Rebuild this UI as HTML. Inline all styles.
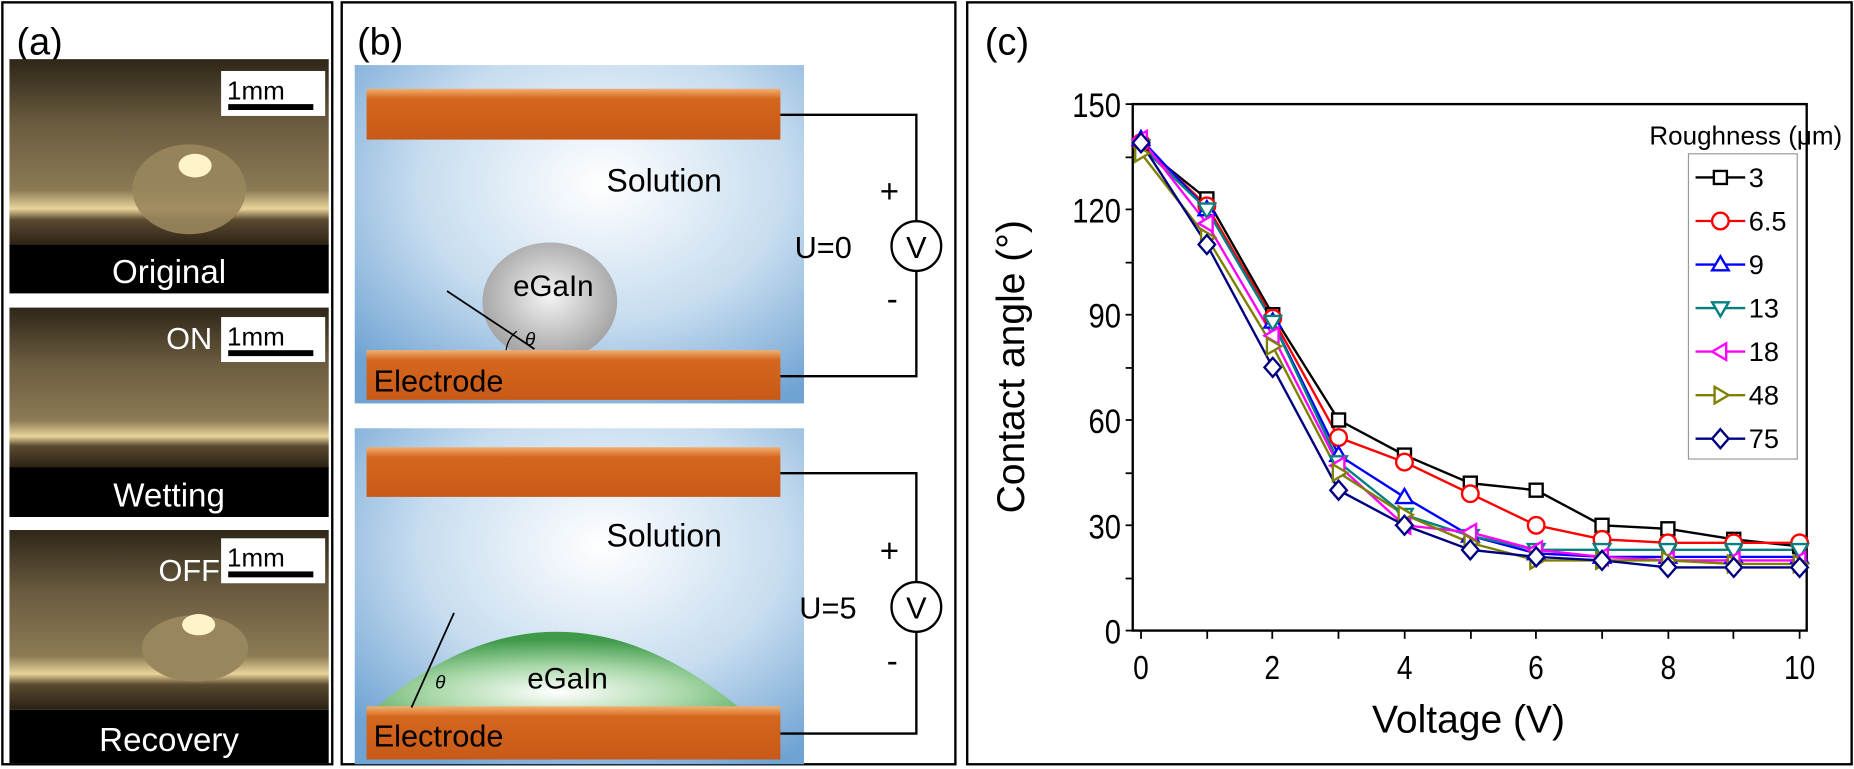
<!DOCTYPE html>
<html><head><meta charset="utf-8"><style>html,body{margin:0;padding:0;background:#fff}svg{display:block}</style></head>
<body>
<svg width="1854" height="769" viewBox="0 0 1568 650" preserveAspectRatio="none" xmlns="http://www.w3.org/2000/svg" font-family="Liberation Sans, Arial, sans-serif">
<defs>
<linearGradient id="ph" x1="0" y1="0" x2="0" y2="1">
<stop offset="0" stop-color="#2e2618"/><stop offset="0.35" stop-color="#6b5c40"/><stop offset="0.7" stop-color="#8c7a55"/><stop offset="0.8" stop-color="#e8d49a"/><stop offset="0.86" stop-color="#5a4a30"/><stop offset="1" stop-color="#2a2014"/>
</linearGradient>
<radialGradient id="sol" cx="0.55" cy="0.35" r="0.75"><stop offset="0" stop-color="#ffffff"/><stop offset="0.55" stop-color="#c6dcef"/><stop offset="1" stop-color="#6fa3d3"/></radialGradient>
<radialGradient id="gray" cx="0.5" cy="0.45" r="0.6"><stop offset="0" stop-color="#f4f4f4"/><stop offset="1" stop-color="#9a9a9a"/></radialGradient>
<radialGradient id="grn" cx="0.5" cy="0.8" r="0.7"><stop offset="0" stop-color="#ffffff"/><stop offset="0.5" stop-color="#a9d8a9"/><stop offset="1" stop-color="#3f9a4a"/></radialGradient>
<linearGradient id="el" x1="0" y1="0" x2="0" y2="1"><stop offset="0" stop-color="#f2b070"/><stop offset="0.2" stop-color="#d4661e"/><stop offset="1" stop-color="#c85a18"/></linearGradient>
</defs>
<!-- panel a -->
<rect x="2" y="2" width="279" height="644" fill="#fff" stroke="#000" stroke-width="2"/>
<text x="14" y="46" font-size="32">(a)</text>
<rect x="8" y="50" width="270" height="158" fill="url(#ph)"/>
<ellipse cx="160" cy="160" rx="48" ry="38" fill="#9a865c" opacity="0.9"/><ellipse cx="165" cy="140" rx="14" ry="10" fill="#fff4c8"/>
<rect x="8" y="207" width="270" height="41" fill="#000"/>
<text x="143" y="239" font-size="28" fill="#fff" text-anchor="middle">Original</text>
<rect x="8" y="260" width="270" height="136" fill="url(#ph)"/>
<rect x="8" y="395" width="270" height="42" fill="#000"/>
<text x="143" y="428" font-size="28" fill="#fff" text-anchor="middle">Wetting</text>
<text x="160" y="295" font-size="26" fill="#fff" text-anchor="middle">ON</text>
<rect x="8" y="448" width="270" height="152" fill="url(#ph)"/>
<ellipse cx="165" cy="548" rx="45" ry="28" fill="#9a865c"/><ellipse cx="168" cy="528" rx="14" ry="9" fill="#fff4c8"/>
<rect x="8" y="600" width="270" height="45" fill="#000"/>
<text x="143" y="635" font-size="28" fill="#fff" text-anchor="middle">Recovery</text>
<text x="160" y="491" font-size="26" fill="#fff" text-anchor="middle">OFF</text>
<g font-size="22">
<rect x="187" y="60" width="88" height="38" fill="#fff"/><text x="192" y="84">1mm</text><rect x="193" y="88" width="72" height="5" fill="#000"/>
<rect x="187" y="268" width="88" height="38" fill="#fff"/><text x="192" y="292">1mm</text><rect x="193" y="296" width="72" height="5" fill="#000"/>
<rect x="187" y="455" width="88" height="38" fill="#fff"/><text x="192" y="479">1mm</text><rect x="193" y="483" width="72" height="5" fill="#000"/>
</g>
<!-- panel b -->
<rect x="289" y="2" width="519" height="644" fill="#fff" stroke="#000" stroke-width="2"/>
<text x="302" y="46" font-size="32">(b)</text>
<rect x="300" y="55" width="380" height="286" fill="url(#sol)"/>
<rect x="310" y="75" width="350" height="43" fill="url(#el)"/>
<ellipse cx="465" cy="255" rx="57" ry="50" fill="url(#gray)"/>
<rect x="310" y="296" width="350" height="42" fill="url(#el)"/>
<text x="513" y="162" font-size="27">Solution</text>
<text x="468" y="250" font-size="25" text-anchor="middle">eGaIn</text>
<text x="444" y="292" font-size="16" font-style="italic">θ</text>
<line x1="378" y1="246" x2="452" y2="295" stroke="#000" stroke-width="1.5"/>
<path d="M428 296 A25 25 0 0 1 437 280" fill="none" stroke="#000"/>
<text x="316" y="331" font-size="26">Electrode</text>
<polyline points="660,97 775,97 775,318 660,318" fill="none" stroke="#000" stroke-width="2"/>
<circle cx="775" cy="208" r="21" fill="#fff" stroke="#000" stroke-width="2"/>
<text x="775" y="218" font-size="26" text-anchor="middle">V</text>
<text x="744" y="171" font-size="28">+</text>
<text x="672" y="218" font-size="26">U=0</text>
<text x="750" y="262" font-size="28">-</text>
<rect x="300" y="362" width="380" height="284" fill="url(#sol)"/>
<rect x="310" y="378" width="350" height="42" fill="url(#el)"/>
<path d="M318 598 Q470 470 625 598 Z" fill="url(#grn)"/>
<rect x="310" y="597" width="350" height="45" fill="url(#el)"/>
<text x="513" y="462" font-size="27">Solution</text>
<text x="480" y="582" font-size="25" text-anchor="middle">eGaIn</text>
<text x="368" y="582" font-size="16" font-style="italic">θ</text>
<line x1="348" y1="598" x2="384" y2="518" stroke="#000" stroke-width="1.5"/>
<text x="316" y="631" font-size="26">Electrode</text>
<polyline points="660,400 775,400 775,620 660,620" fill="none" stroke="#000" stroke-width="2"/>
<circle cx="775" cy="513" r="21" fill="#fff" stroke="#000" stroke-width="2"/>
<text x="775" y="523" font-size="26" text-anchor="middle">V</text>
<text x="744" y="475" font-size="28">+</text>
<text x="676" y="523" font-size="26">U=5</text>
<text x="750" y="568" font-size="28">-</text>
<!-- panel c -->
<rect x="818" y="2" width="748" height="644" fill="#fff" stroke="#000" stroke-width="2"/>
<text x="833" y="46" font-size="32">(c)</text>
<rect x="958" y="88" width="570" height="445" fill="none" stroke="#000" stroke-width="2"/>
<g font-size="29" text-anchor="end" transform="translate(948,0) scale(0.85,1) translate(-948,0)">
<text x="948" y="99">150</text><text x="948" y="188">120</text><text x="948" y="277">90</text><text x="948" y="366">60</text><text x="948" y="455">30</text><text x="948" y="544">0</text>
</g>
<g stroke="#000" stroke-width="1.5">
<line x1="952" y1="88" x2="958" y2="88"/><line x1="952" y1="133" x2="958" y2="133"/><line x1="952" y1="177" x2="958" y2="177"/><line x1="952" y1="222" x2="958" y2="222"/><line x1="952" y1="266" x2="958" y2="266"/><line x1="952" y1="311" x2="958" y2="311"/><line x1="952" y1="355" x2="958" y2="355"/><line x1="952" y1="400" x2="958" y2="400"/><line x1="952" y1="444" x2="958" y2="444"/><line x1="952" y1="489" x2="958" y2="489"/><line x1="952" y1="533" x2="958" y2="533"/>
<line x1="965" y1="533" x2="965" y2="540"/><line x1="1021" y1="533" x2="1021" y2="540"/><line x1="1076" y1="533" x2="1076" y2="540"/><line x1="1132" y1="533" x2="1132" y2="540"/><line x1="1188" y1="533" x2="1188" y2="540"/><line x1="1244" y1="533" x2="1244" y2="540"/><line x1="1299" y1="533" x2="1299" y2="540"/><line x1="1355" y1="533" x2="1355" y2="540"/><line x1="1411" y1="533" x2="1411" y2="540"/><line x1="1466" y1="533" x2="1466" y2="540"/><line x1="1522" y1="533" x2="1522" y2="540"/>
</g>
<g font-size="28" text-anchor="middle">
<text x="965" y="574" transform="translate(965,0) scale(0.85,1) translate(-965,0)">0</text>
<text x="1076" y="574" transform="translate(1076,0) scale(0.85,1) translate(-1076,0)">2</text>
<text x="1188" y="574" transform="translate(1188,0) scale(0.85,1) translate(-1188,0)">4</text>
<text x="1299" y="574" transform="translate(1299,0) scale(0.85,1) translate(-1299,0)">6</text>
<text x="1411" y="574" transform="translate(1411,0) scale(0.85,1) translate(-1411,0)">8</text>
<text x="1522" y="574" transform="translate(1522,0) scale(0.85,1) translate(-1522,0)">10</text>
</g>
<text x="1242" y="619" font-size="33" text-anchor="middle">Voltage (V)</text>
<text transform="translate(866,310) rotate(-90)" font-size="33" text-anchor="middle">Contact angle (°)</text>
<g id="series" fill="#fff" stroke-width="2"></g>
<text x="1558" y="122" font-size="22" text-anchor="end">Roughness (μm)</text>
<rect x="1428" y="130" width="92" height="258" fill="#fff" stroke="#999" stroke-width="1"/>
<g id="legend" stroke-width="2" fill="#fff"></g>
<script>
var ns="http://www.w3.org/2000/svg";
var data=[
["#000","sq","3",[138,123,90,60,50,42,40,30,29,26,24]],
["#f00","ci","6.5",[139,121,89,55,48,39,30,26,25,25,25]],
["#00f","tu","9",[140,120,88,50,38,27,22,21,21,21,21]],
["#008080","td","13",[138,120,88,48,33,27,23,23,23,23,23]],
["#f0f","tl","18",[140,116,84,47,30,28,23,21,20,20,20]],
["#808000","tr","48",[136,112,81,45,33,25,20,20,20,19,19]],
["#000080","di","75",[139,110,75,40,30,23,21,20,18,18,18]]];
function el(t,a,p){var e=document.createElementNS(ns,t);for(var k in a)e.setAttribute(k,a[k]);p.appendChild(e);return e;}
function mk(type,x,y,c,p){var s=7;var d;
if(type=="sq")return el("rect",{x:x-5.5,y:y-5.5,width:11,height:11,stroke:c,fill:"#fff"},p);
if(type=="ci")return el("circle",{cx:x,cy:y,r:7,stroke:c,fill:"#fff"},p);
if(type=="tu")d=[[x,y-s],[x+s,y+s*0.7],[x-s,y+s*0.7]];
if(type=="td")d=[[x,y+s],[x+s,y-s*0.7],[x-s,y-s*0.7]];
if(type=="tl")d=[[x-s,y],[x+s*0.7,y-s],[x+s*0.7,y+s]];
if(type=="tr")d=[[x+s,y],[x-s*0.7,y-s],[x-s*0.7,y+s]];
if(type=="di")d=[[x,y-8],[x+7,y],[x,y+8],[x-7,y]];
return el("polygon",{points:d.map(function(q){return q.join(",")}).join(" "),stroke:c,fill:"#fff"},p);}
var g=document.getElementById("series"),lg=document.getElementById("legend");
function X(i){return 965+i*55.7}function Y(v){return 533-v*445/150}
data.forEach(function(s){el("polyline",{points:s[3].map(function(v,i){return X(i)+","+Y(v)}).join(" "),fill:"none",stroke:s[0]},g);});
data.forEach(function(s){s[3].forEach(function(v,i){mk(s[1],X(i),Y(v),s[0],g);});});
data.forEach(function(s,i){var y=150+i*36.8;el("line",{x1:1434,y1:y,x2:1476,y2:y,stroke:s[0]},lg);mk(s[1],1455,y,s[0],lg);
var t=el("text",{x:1479,y:y+8,"font-size":23,fill:"#000",stroke:"none"},lg);t.textContent=s[2];});
</script>
</svg>
</body></html>
